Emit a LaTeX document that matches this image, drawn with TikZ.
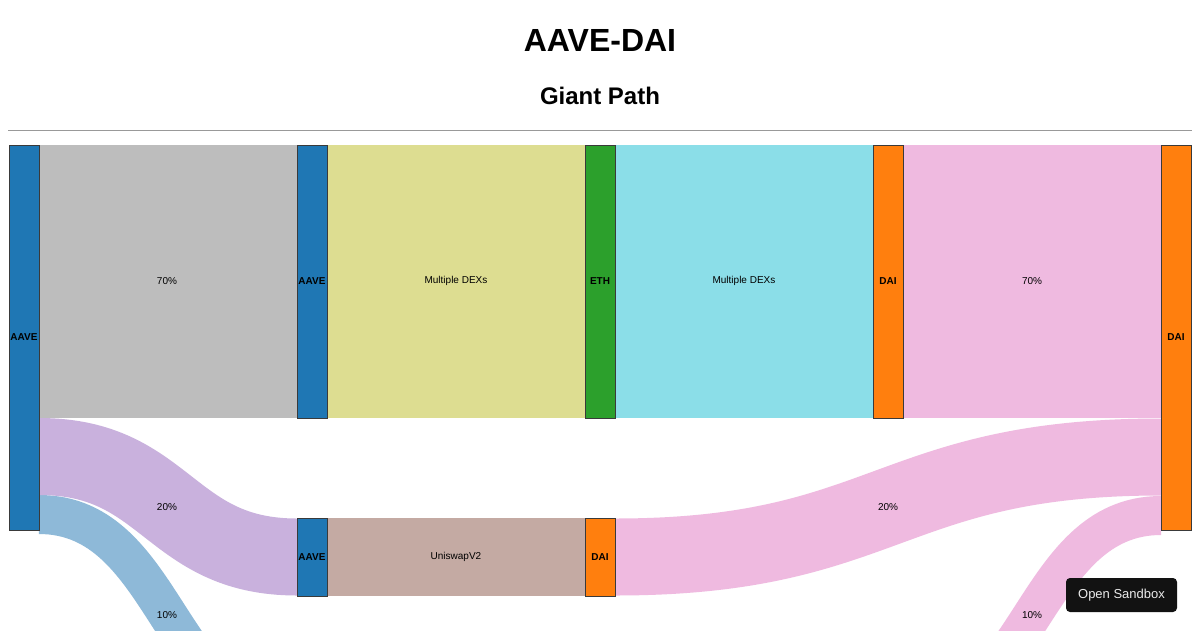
\documentclass[tikz,border=0pt]{standalone}
\usepackage{fontspec}
\setmainfont{Liberation Sans}
\definecolor{cAave}{HTML}{1F77B4}
\definecolor{cEth}{HTML}{2CA02C}
\definecolor{cDai}{HTML}{FF7F0E}
\definecolor{lGray}{HTML}{BDBDBD}
\definecolor{lPurple}{HTML}{C9B1DD}
\definecolor{lBlue}{HTML}{8EB9D8}
\definecolor{lYellow}{HTML}{DDDD91}
\definecolor{lCyan}{HTML}{8BDEE8}
\definecolor{lPink}{HTML}{EFBAE0}
\definecolor{lBrown}{HTML}{C4AAA3}
\definecolor{nBorder}{HTML}{3A3A3A}
\begin{document}
\begin{tikzpicture}[x=1pt,y=-1pt,
  nd/.style={draw=nBorder, line width=0.9pt, inner sep=0pt, minimum width=30pt,
    font=\bfseries\fontsize{10}{12}\selectfont},
  lbl/.style={inner sep=0pt, font=\fontsize{10}{12}\selectfont},
  lnk/.style={line cap=butt},
]
\useasboundingbox (0,0) rectangle (1200,630);
\fill[white] (0,0) rectangle (1200,630);

% titles
\node[font=\bfseries\fontsize{32}{38}\selectfont] (title) at (600,40) {AAVE-DAI};
\node[font=\bfseries\fontsize{24}{28}\selectfont] (subtitle) at (600,96) {Giant Path};
\draw[draw=black!40, line width=1pt] (8,130) coordinate (rl) -- (1192,130) coordinate (rr);

% links (stroked centre lines, width = flow)
\begin{scope}
\clip (0,0) rectangle (1200,630);
% AAVE -> AAVE (70%)
\draw[lnk, lGray, line width=273pt] (39,281.5) -- (297,281.5);
% AAVE -> offscreen (10%)
\draw[lnk, lBlue, line width=39pt] (39,514.5) .. controls (168,514.5) and (168,715.5) .. (297,715.5);
% AAVE -> AAVE (20%)
\draw[lnk, lPurple, line width=77pt] (39,456.5) .. controls (168,456.5) and (168,557) .. (297,557);
% AAVE -> ETH
\draw[lnk, lYellow, line width=273pt] (327,281.5) -- (585,281.5);
% ETH -> DAI
\draw[lnk, lCyan, line width=273pt] (615,281.5) -- (873,281.5);
% DAI -> DAI (70%)
\draw[lnk, lPink, line width=273pt] (903,281.5) -- (1161,281.5);
% AAVE -> DAI UniswapV2
\draw[lnk, lBrown, line width=78pt] (327,557) -- (585,557);
% DAI -> DAI (20%)
\draw[lnk, lPink, line width=77pt] (615,557) .. controls (888,557) and (888,457) .. (1161,457);
% offscreen -> DAI (10%)
\draw[lnk, lPink, line width=39pt] (903,715.5) .. controls (1032,715.5) and (1032,515.5) .. (1161,515.5);
\end{scope}

% link labels
\node[lbl] (l1) at (167,281) {70\%};
\node[lbl] (l2) at (456,281) {Multiple DEXs};
\node[lbl] (l3) at (744,281) {Multiple DEXs};
\node[lbl] (l4) at (1032,281) {70\%};
\node[lbl] (l5) at (167,507) {20\%};
\node[lbl] (l6) at (456,557) {UniswapV2};
\node[lbl] (l7) at (888,507) {20\%};
\node[lbl] (l8) at (167,615) {10\%};
\node[lbl] (l9) at (1032,615) {10\%};

% nodes
\node[nd, fill=cAave, minimum height=385pt] (src) at (24,337.5) {AAVE};
\node[nd, fill=cAave, minimum height=273pt] (aaveA) at (312,281.5) {AAVE};
\node[nd, fill=cEth, minimum height=273pt] (eth) at (600,281.5) {ETH};
\node[nd, fill=cDai, minimum height=273pt] (daiA) at (888,281.5) {DAI};
\node[nd, fill=cDai, minimum height=385pt] (dst) at (1176,337.5) {DAI};
\node[nd, fill=cAave, minimum height=78pt] (aaveB) at (312,557) {AAVE};
\node[nd, fill=cDai, minimum height=78pt] (daiB) at (600,557) {DAI};

% button
\node[fill=black!93, rounded corners=4pt, minimum width=111pt, minimum height=34pt,
  inner sep=0pt, text=black!8, font=\fontsize{13}{15}\selectfont] (btn) at (1121.5,595) {Open Sandbox};
\end{tikzpicture}
\end{document}
